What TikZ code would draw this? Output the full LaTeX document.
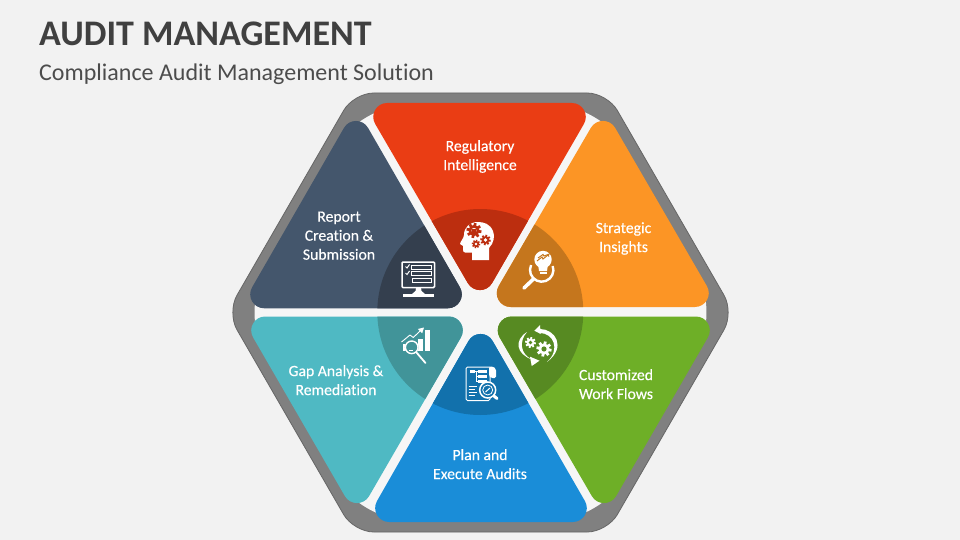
\documentclass[tikz,border=0pt]{standalone}
\usepackage{fontspec}
\usetikzlibrary{calc}
\setmainfont[Ligatures=NoCommon]{Carlito}
\newfontfamily\lblfont[FakeBold=0.25,Ligatures=NoCommon]{Carlito}
\definecolor{bgc}{HTML}{F2F2F2}
\definecolor{ringc}{HTML}{808080}
\definecolor{ringe}{HTML}{666666}
\definecolor{redc}{HTML}{EA3D14}\definecolor{redd}{HTML}{BC2E0F}
\definecolor{orac}{HTML}{FC9525}\definecolor{orad}{HTML}{C5761D}
\definecolor{grec}{HTML}{6EAF27}\definecolor{gred}{HTML}{578A22}
\definecolor{bluc}{HTML}{1A8DD8}\definecolor{blud}{HTML}{1271AC}
\definecolor{teac}{HTML}{4FB9C3}\definecolor{tead}{HTML}{419499}
\definecolor{navc}{HTML}{44566C}\definecolor{navd}{HTML}{343F4E}
\tikzset{
  lbl/.style={text=white,align=center,font=\lblfont\fontsize{15.7}{19}\selectfont,inner sep=0pt},
}
% one round corner at #2, coming from #1, going to #3
\newcommand{\rcorner}[3]{($(#2)!24.2pt!(#1)$) .. controls ($(#2)!13.4pt!(#1)$) and ($(#2)!13.4pt!(#3)$) .. ($(#2)!24.2pt!(#3)$)}
\newcommand{\rtri}[3]{\rcorner{#3}{#1}{#2} -- \rcorner{#1}{#2}{#3} -- \rcorner{#2}{#3}{#1} -- cycle}
\newcommand{\tri}[5]{%
  \fill[#1] \rtri{#3}{#4}{#5};
  \begin{scope}
    \clip \rtri{#3}{#4}{#5};
    \fill[#2] (480.3,312) circle[radius=103];
  \end{scope}}
% gear: x y r fg hole
\newcommand{\gearx}[5]{%
  \fill[#4] (#1,#2) circle[radius=0.74*#3];
  \foreach \a in {0,45,...,315}{
    \draw[#4,line width=0.36*#3] (#1,#2) ++(\a+10:0.6*#3) -- ++(\a+10:0.4*#3);
  }
  \fill[#5] (#1,#2) circle[radius=0.34*#3];}
\begin{document}
\begin{tikzpicture}[x=1pt,y=-1pt]
\useasboundingbox (0,0) rectangle (960,540);
\fill[bgc] (0,0) rectangle (960,540);
% frame
\fill[ringc,draw=ringe,line width=0.8,rounded corners=20]
  (227,312.5) -- (353.75,93) -- (607.25,93) -- (734,312.5) -- (607.25,532) -- (353.75,532) -- cycle;
\fill[bgc!70!white,rounded corners=48]
  (240.5,312.5) -- (360.5,104.5) -- (600.5,104.5) -- (720.5,312.5) -- (600.5,520.5) -- (360.5,520.5) -- cycle;
% wedges
\tri{redc}{redd}{363,103}{596,103}{480,304}
\tri{orac}{orad}{486.5,307}{719,307}{603,107}
\tri{grec}{gred}{487.5,316.5}{720,316.5}{604,517}
\tri{bluc}{blud}{365,522}{597,522}{480.5,320}
\tri{teac}{tead}{241,316.5}{473,316.5}{357,517}
\tri{navc}{navd}{240,308.3}{472,308.3}{356,107}
% titles
\node[anchor=base west,inner sep=0pt,text=black!75,font=\fontsize{36}{40}\selectfont\bfseries] (ttl) at (39,46) {AUDIT MANAGEMENT};
\node[anchor=base west,inner sep=0pt,text=black!70,font=\fontsize{24}{28}\selectfont] (sub) at (39,81) {Compliance Audit Management Solution};
% labels
\node[lbl] (lr) at (480,156.5) {Regulatory\\Intelligence};
\node[lbl] (lo) at (623.5,238.5) {Strategic\\Insights};
\node[lbl] (lg) at (616,384.2) {Customized\\Work Flows};
\node[lbl] (lb) at (480,464.2) {Plan and\\Execute Audits};
\node[lbl] (lt) at (336,380.2) {Gap Analysis \&\\Remediation};
\node[lbl] (ln) at (339,235.7) {Report\\Creation \&\\Submission};
% head icon
\fill[white] (472,260) -- (489,260) -- (489,248) .. controls (494,243) and (495,236) .. (493,231)
  .. controls (490,224) and (484,222) .. (478,222) .. controls (470,222) and (464,227) .. (464,235)
  .. controls (464,238) and (460,242) .. (460,244) .. controls (460,245) and (463,245) .. (463,246)
  -- (463,250) .. controls (463,253) and (466,253) .. (472,252.5) -- cycle;
\gearx{474}{230.5}{7.5}{redd}{white}
\fill[redd] (471.5,229) -- (476.5,229) -- (475.5,235) -- (472.5,235) -- cycle;
\gearx{485.5}{240}{5.2}{redd}{white}
\gearx{476}{244}{4.2}{redd}{white}
% bulb + magnifier
\fill[white] (543,259.5) circle[radius=8.7];
\fill[white] (538,264) -- (548,264) -- (547,271) -- (539,271) -- cycle;
\draw[white,line width=1.5] (539.5,273) -- (546.5,273);
\draw[orad,line width=1] (537,261) -- (542,257) -- (543,259) -- (548,255) -- (549,256.5);
\draw[orad,line width=1] (538,258) -- (543,254.5) -- (544,256) -- (552,253);
\draw[white,line width=2.4] (541.7,270) ++(-20:11.7) arc[start angle=-20,end angle=205,radius=11.7];
\draw[white,line width=3.6,line cap=round] (533.5,279) -- (524,288);
% gears and arrows
\gearx{544}{349}{7.6}{white}{gred}
\gearx{530.5}{342.5}{5.4}{white}{gred}
\fill[white] (540,329) .. controls (555,329) and (567,347) .. (547,362)
  .. controls (561,349) and (553,333) .. (540,333) -- cycle;
\fill[white] (527,332) .. controls (514,340) and (516,354) .. (532,359.5)
  .. controls (520,354) and (519,341) .. (527,332) -- cycle;
\fill[white] (540,325) -- (534.3,330.7) -- (540.7,334) -- cycle;
\fill[white] (530,356.7) -- (539.5,360.7) -- (531.7,366) -- cycle;
% document + magnifier
\draw[white,line width=1,rounded corners=1.5] (490,367) -- (466,367) -- (466,400.5) -- (490,400.5) -- (490,367);
\fill[white,rounded corners=1.5] (489,366.5) -- (493,366.5) -- (496,369) -- (496,378) -- (491,378) -- (489,376) -- cycle;
\fill[white] (470,370) rectangle (475,373);
\fill[white] (478,370) rectangle (487,373);
\fill[white] (478,375) rectangle (487,378);
\fill[white] (478,380) rectangle (487,383);
\draw[white,line width=.7] (475,371.5) -- (478,371.5) (476.5,371.5) -- (476.5,381.5) -- (478,381.5) (476.5,376.5) -- (478,376.5);
\draw[white,line width=.9] (468.5,386) -- (477,386) (468.5,389) -- (475,389) (468.5,392) -- (477,392) (468.5,395) -- (475,395);
\fill[blud] (487.7,390) circle[radius=8];
\draw[white,line width=1.5] (487.7,390) circle[radius=8];
\draw[white,line width=.8] (487.7,390) circle[radius=5];
\draw[white,line width=1] (485.5,392) -- (490,388);
\draw[white,line width=3,line cap=round] (494,396) -- (497,398.5);
% chart + magnifier
\fill[white] (424.5,329.5) rectangle (429.8,351);
\fill[white] (418.3,339) rectangle (423,351);
\fill[white] (403,343.5) rectangle (408,350.5);
\draw[white,line width=.9,line join=round] (401.5,342) -- (410,335) -- (413.3,337.5) -- (421,330);
\fill[white] (424,327.5) -- (417.8,329) -- (422.2,333.2) -- cycle;
\fill[tead] (411.7,347.3) circle[radius=6.8];
\draw[white,line width=1.4] (411.7,347.3) circle[radius=6.3];
\fill[white] (408.5,350) rectangle (413,351.3);
\draw[white,line width=1.8,line cap=round] (416.5,352.5) -- (425.5,363);
% monitor
\draw[white,line width=1.5,rounded corners=1] (402,262) rectangle (434.5,287.5);
\draw[white,line width=.9] (411.5,265) rectangle (431,269);
\draw[white,line width=.9] (411.5,271.7) rectangle (431,275.7);
\draw[white,line width=.9] (412,278) rectangle (431,282);
\draw[white,line width=1] (405.5,266.5) -- (407,268) -- (409.5,264.5);
\draw[white,line width=1] (405.5,273) -- (407,274.5) -- (409.5,271);
\fill[white] (416,288) -- (421,288) -- (421.5,291) -- (425,294) -- (412,294) -- (415.5,291) -- cycle;
\fill[white] (402.5,294) rectangle (433.5,296.7);
\end{tikzpicture}
\end{document}
